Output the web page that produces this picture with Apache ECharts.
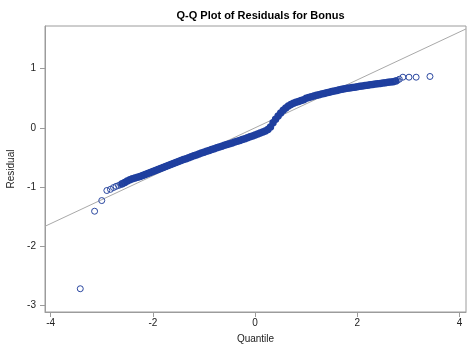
<!DOCTYPE html>
<html>
<head>
<meta charset="utf-8">
<script src="https://cdn.jsdelivr.net/npm/echarts@6/dist/echarts.min.js"></script>
<style>
html,body{margin:0;padding:0;background:#fff;}
#chart{width:474px;height:355px;}
</style>
</head>
<body>
<div id="chart"></div>
<script>
// ---- Data ----
const titleText = "Q-Q Plot of Residuals for Bonus";
const xTicks = [-4, -2, 0, 2, 4];
const yTicks = [-3, -2, -1, 0, 1];

// Dense central band (normal quantile, residual)
const bandQuantile = [
  -2.60,-2.55,-2.50,-2.45,-2.40,-2.35,-2.30,-2.25,-2.20,-2.15,-2.10,-2.05,
  -2.00,-1.95,-1.90,-1.85,-1.80,-1.75,-1.70,-1.65,-1.60,-1.55,-1.50,-1.45,
  -1.40,-1.35,-1.30,-1.25,-1.20,-1.15,-1.10,-1.05,-1.00,-0.95,-0.90,-0.85,
  -0.80,-0.75,-0.70,-0.65,-0.60,-0.55,-0.50,-0.45,-0.40,-0.35,-0.30,-0.25,
  -0.20,-0.15,-0.10,-0.05,0.00,0.05,0.10,0.15,0.20,0.25,0.30,0.35,
  0.40,0.45,0.50,0.55,0.60,0.65,0.70,0.75,0.80,0.85,0.90,0.95,
  1.00,1.05,1.10,1.15,1.20,1.25,1.30,1.35,1.40,1.45,1.50,1.55,
  1.60,1.65,1.70,1.75,1.80,1.85,1.90,1.95,2.00,2.05,2.10,2.15,
  2.20,2.25,2.30,2.35,2.40,2.45,2.50,2.55,2.60,2.65,2.70,2.75
];
const bandResidual = [
  -0.945,-0.925,-0.900,-0.880,-0.862,-0.848,-0.835,-0.822,-0.806,-0.790,-0.773,-0.757,
  -0.740,-0.723,-0.706,-0.689,-0.672,-0.655,-0.638,-0.621,-0.604,-0.587,-0.570,-0.554,
  -0.538,-0.522,-0.506,-0.490,-0.474,-0.458,-0.442,-0.427,-0.412,-0.397,-0.382,-0.367,
  -0.353,-0.339,-0.325,-0.311,-0.297,-0.283,-0.270,-0.256,-0.242,-0.228,-0.214,-0.199,
  -0.184,-0.168,-0.152,-0.137,-0.122,-0.106,-0.090,-0.073,-0.055,-0.030,0.015,0.085,
  0.145,0.200,0.250,0.295,0.335,0.367,0.393,0.413,0.430,0.446,0.461,0.475,
  0.500,0.512,0.525,0.537,0.548,0.559,0.570,0.581,0.592,0.602,0.612,0.622,
  0.632,0.641,0.650,0.658,0.666,0.673,0.680,0.687,0.694,0.700,0.707,0.713,
  0.720,0.726,0.732,0.738,0.744,0.750,0.756,0.762,0.768,0.774,0.780,0.790
];

// Sparse tail points (drawn as open circles)
const tailQuantile = [-3.42,-3.14,-3.00,-2.90,-2.83,-2.77,-2.72,-2.67,-2.63, 2.78,2.82,2.89,3.01,3.15,3.42];
const tailResidual = [-2.72,-1.41,-1.23,-1.06,-1.04,-1.01,-0.99,-0.975,-0.96, 0.80,0.82,0.855,0.855,0.855,0.867];

// Reference line (intercept, slope)
const refIntercept = 0.0;
const refSlope = 0.405;

// Axis ranges
const xMin = -4.11, xMax = 4.125;
const yMin = -3.113, yMax = 1.72;

// ---- Build chart ----
const band = bandQuantile.map((q, i) => [q, bandResidual[i]]);
const tails = tailQuantile.map((q, i) => [q, tailResidual[i]]);
const refLine = [[xMin, refIntercept + refSlope * xMin], [xMax, refIntercept + refSlope * xMax]];

const font = "'Liberation Sans', Arial, sans-serif";
const axisColor = '#9c9c9c';
const markerColor = '#1f3f9f';

const chart = echarts.init(document.getElementById('chart'), null, {renderer: 'canvas'});
chart.setOption({
  animation: false,
  backgroundColor: '#ffffff',
  title: {
    text: titleText,
    left: 255.5, textAlign: 'center', top: 5,
    textStyle: {fontFamily: font, fontSize: 11, fontWeight: 'bold', color: '#000'}
  },
  grid: {
    left: 45, top: 26, width: 421, height: 286,
    containLabel: false, outerBoundsMode: 'none',
    show: true, borderColor: axisColor, borderWidth: 1, backgroundColor: 'transparent'
  },
  xAxis: {
    type: 'value', min: xMin, max: xMax,
    name: 'Quantile', nameLocation: 'middle', nameGap: 22,
    nameTextStyle: {fontFamily: font, fontSize: 10, color: '#222'},
    axisLine: {show: true, onZero: false, lineStyle: {color: axisColor}},
    axisTick: {show: true, length: 5, inside: false, customValues: xTicks, lineStyle: {color: axisColor}},
    axisLabel: {customValues: xTicks, margin: 6, fontFamily: font, fontSize: 10, color: '#222'},
    splitLine: {show: false}
  },
  yAxis: {
    type: 'value', min: yMin, max: yMax,
    name: 'Residual', nameLocation: 'middle', nameGap: 20, nameRotate: 90,
    nameTextStyle: {fontFamily: font, fontSize: 10, color: '#222'},
    axisLine: {show: true, onZero: false, lineStyle: {color: axisColor}},
    axisTick: {show: true, length: 5, inside: false, customValues: yTicks, lineStyle: {color: axisColor}},
    axisLabel: {customValues: yTicks, margin: 9, fontFamily: font, fontSize: 10, color: '#222'},
    splitLine: {show: false}
  },
  series: [
    {
      type: 'line', data: refLine, showSymbol: false, silent: true, clip: true,
      lineStyle: {color: '#a9a9a9', width: 1}, z: 1
    },
    {
      type: 'scatter', data: band, symbol: 'circle', symbolSize: 7.5,
      itemStyle: {color: markerColor, opacity: 1}, z: 2
    },
    {
      type: 'scatter', data: tails, symbol: 'circle', symbolSize: 6,
      itemStyle: {color: 'rgba(0,0,0,0)', borderColor: '#2a47a0', borderWidth: 1, opacity: 1}, z: 3
    }
  ]
});
</script>
</body>
</html>
